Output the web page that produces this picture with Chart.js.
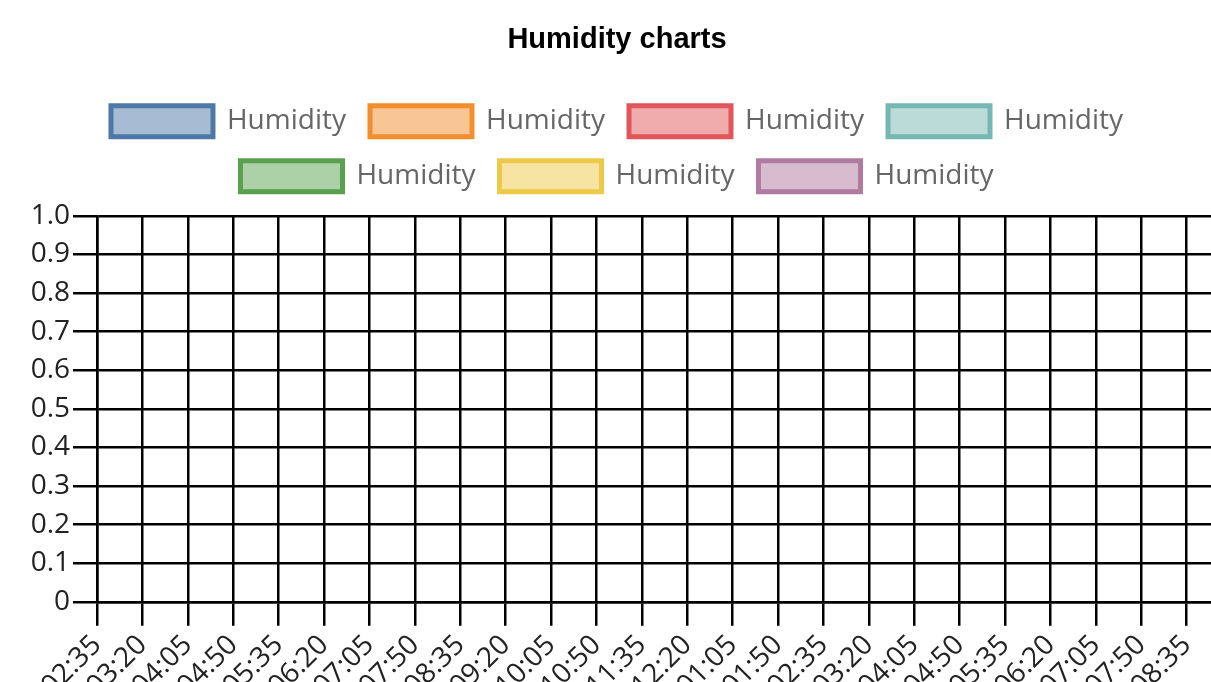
<!DOCTYPE html>
<html>
<head>
<meta charset="utf-8">
<title>Humidity charts</title>
<script src="https://cdn.jsdelivr.net/npm/chart.js@4.4.1/dist/chart.umd.min.js"></script>
<style>
    html, body { margin: 0; padding: 0; background: #fff; overflow: hidden; }
    #wrap { position: relative; width: 1234px; height: 706px; }
</style>
</head>
<body>
<div id="wrap"><canvas id="chart-humidity"></canvas></div>
<script>
// x categories (time of reading, 12h clock); the last slot runs past the window edge unlabelled
const timeLabels = [
    '02:35', '03:20', '04:05', '04:50', '05:35', '06:20', '07:05', '07:50', '08:35',
    '09:20', '10:05', '10:50', '11:35', '12:20', '01:05', '01:50', '02:35', '03:20',
    '04:05', '04:50', '05:35', '06:20', '07:05', '07:50', '08:35', ''
];

// series: nothing plotted in the reference, every sensor is empty
const seriesNames = ['Humidity', 'Humidity', 'Humidity', 'Humidity', 'Humidity', 'Humidity', 'Humidity'];
const sensor1 = [];
const sensor2 = [];
const sensor3 = [];
const sensor4 = [];
const sensor5 = [];
const sensor6 = [];
const sensor7 = [];
const seriesValues = [sensor1, sensor2, sensor3, sensor4, sensor5, sensor6, sensor7];

const lineColors = ['#4e79a7', '#f28e2b', '#e15759', '#76b7b2', '#59a14f', '#edc948', '#b07aa1'];

const tickFont = { family: "'Open Sans', sans-serif", size: 28 };

const datasets = seriesValues.map((vals, i) => ({
    label: seriesNames[i],
    data: vals,
    borderColor: lineColors[i],
    backgroundColor: lineColors[i] + '80',
    borderWidth: 5,
    fill: false
}));

// a bit of air between the legend and the plot
const legendGap = {
    id: 'legendGap',
    beforeInit(chart) {
        const fit = chart.legend.fit;
        chart.legend.fit = function () {
            fit.call(this);
            this.height += 14;
        };
    }
};

new Chart(document.getElementById('chart-humidity'), {
    type: 'line',
    data: { labels: timeLabels, datasets },
    plugins: [legendGap],
    options: {
        responsive: true,
        maintainAspectRatio: false,
        animation: false,
        plugins: {
            title: {
                display: true,
                text: 'Humidity charts',
                color: '#000',
                font: { family: "'Liberation Sans', Arial, sans-serif", size: 29, weight: 'bold' },
                padding: { top: 23, bottom: 24 }
            },
            legend: {
                labels: {
                    boxWidth: 102,
                    boxHeight: 31,
                    padding: 24,
                    color: '#666',
                    font: { family: "'Open Sans', sans-serif", size: 28 }
                }
            },
            tooltip: { enabled: false }
        },
        scales: {
            x: {
                grid: { color: '#000', lineWidth: 2.5, tickLength: 24 },
                border: { color: '#000', width: 2.5 },
                ticks: {
                    color: '#222',
                    font: tickFont,
                    autoSkip: false,
                    minRotation: 45,
                    maxRotation: 45
                },
                afterFit(scale) { scale.paddingRight = 2; }
            },
            y: {
                min: 0,
                max: 1,
                grid: { color: '#000', lineWidth: 2.5, tickLength: 24 },
                border: { color: '#000', width: 2.5 },
                ticks: { color: '#222', font: tickFont, stepSize: 0.1 },
                afterFit(scale) { scale.width = 97; }
            }
        }
    }
});
</script>
</body>
</html>
